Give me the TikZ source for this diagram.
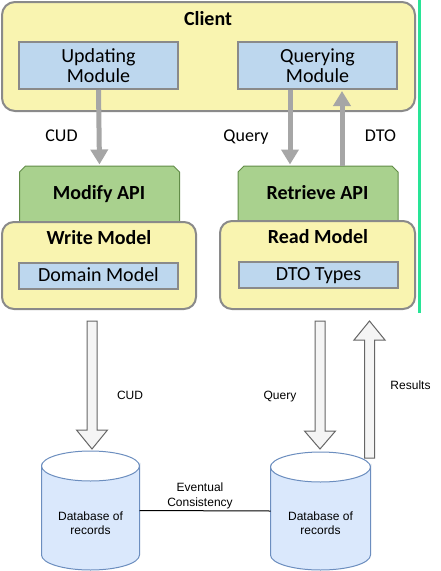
\documentclass[tikz,border=0pt]{standalone}
\usepackage{fontspec}
\setmainfont{Carlito}
\newfontfamily\arialf{Liberation Sans}
\usetikzlibrary{arrows.meta,calc}
\definecolor{ylw}{RGB}{249,244,176}
\definecolor{bgray}{RGB}{138,138,138}
\definecolor{lblue}{RGB}{189,215,238}
\definecolor{apig}{RGB}{169,209,142}
\definecolor{apiborder}{RGB}{98,140,72}
\definecolor{agray}{RGB}{166,166,166}
\definecolor{dbfill}{RGB}{218,232,252}
\definecolor{dbline}{RGB}{108,142,191}
\definecolor{hfill}{RGB}{245,245,245}
\definecolor{hline}{RGB}{102,102,102}
\definecolor{edgegreen}{RGB}{40,228,150}
\tikzset{
  ybox/.style={draw=bgray, line width=2pt, fill=ylw, rounded corners=13pt, inner sep=0pt},
  bbox/.style={draw=bgray, line width=2pt, fill=lblue, inner sep=0pt, align=center, font=\fontsize{20}{19.5}\selectfont},
  helper/.style={draw=none, inner sep=0pt, outer sep=0pt},
  apishape/.style={draw=apiborder, line width=1pt, fill=apig},
  title/.style={anchor=base, inner sep=0pt, font=\bfseries\fontsize{20}{24}\selectfont},
  toplabel/.style={anchor=base, inner sep=0pt, font=\fontsize{18}{22}\selectfont},
  garrow/.style={draw=agray, line width=5pt, -{Triangle[length=15pt,width=17pt]}},
  harrow/.style={draw=hline, line width=1pt, fill=hfill, line join=miter},
  dbshape/.style={draw=dbline, line width=1pt, fill=dbfill},
  smalllabel/.style={inner sep=0pt, align=center, font=\arialf\fontsize{12}{14.5}\selectfont},
  greenedge/.style={draw=edgegreen, line width=3pt}
}
\begin{document}
\begin{tikzpicture}[x=1pt,y=-1pt]
\useasboundingbox (0,0) rectangle (441,571);
\fill[white] (0,0) rectangle (441,571);

% right green edge
\draw[greenedge] (419,0) -- (419,313);

% Client
\node[ybox, minimum width=413pt, minimum height=109pt] (client) at (208.5,56.5) {};
\node[title] (clientt) at (208,25) {Client};
\node[bbox, minimum width=159pt, minimum height=47pt] (upd) at (98.5,65.5) {Updating\\Module};
\node[bbox, minimum width=159pt, minimum height=47pt] (qry) at (317.5,65.5) {Querying\\Module};

% API shapes
\node[helper, minimum width=160pt, minimum height=62pt] (mapi) at (99.5,197) {};
\node[helper, minimum width=160pt, minimum height=62pt] (rapi) at (318,197) {};
\filldraw[apishape] (mapi.south west) -- ([yshift=-6pt]mapi.north west) -- ([xshift=6pt]mapi.north west) -- ([xshift=-6pt]mapi.north east) -- ([yshift=-6pt]mapi.north east) -- (mapi.south east) -- cycle;
\filldraw[apishape] (rapi.south west) -- ([yshift=-6pt]rapi.north west) -- ([xshift=6pt]rapi.north west) -- ([xshift=-6pt]rapi.north east) -- ([yshift=-6pt]rapi.north east) -- (rapi.south east) -- cycle;
\node[title] (mapit) at (99,199.3) {Modify API};
\node[title] (rapit) at (317.5,199.3) {Retrieve API};

% Models
\node[ybox, rounded corners=12pt, minimum width=194pt, minimum height=87pt] (wm) at (99,265.5) {};
\node[ybox, rounded corners=12pt, minimum width=195pt, minimum height=88pt] (rm) at (317.5,265) {};
\node[title] (wmt) at (99,244) {Write Model};
\node[title] (rmt) at (318,243.3) {Read Model};
\node[bbox, minimum width=159pt, minimum height=26pt, text height=14pt, text depth=4pt] (dom) at (98.5,276) {Domain Model};
\node[bbox, minimum width=159pt, minimum height=26pt, text height=14pt, text depth=4pt] (dto) at (318.5,275) {DTO Types};

% thick gray arrows
\draw[garrow, shorten >=1.5pt] (upd.south) -- (mapi.north);
\draw[garrow, shorten >=1.5pt] ([xshift=-27.5pt]qry.south) -- ([xshift=-28pt]rapi.north);
\draw[garrow, shorten >=1pt] ([xshift=24pt]rapi.north) -- ([xshift=24.5pt]qry.south);
\node[toplabel] (lcud) at (61.5,141.7) {CUD};
\node[toplabel] (lq) at (246,141.7) {Query};
\node[toplabel] (ldto) at (380.5,141.7) {DTO};

% databases
\node[helper, minimum width=98pt, minimum height=119pt] (db1) at (90.5,510.5) {};
\node[helper, minimum width=100pt, minimum height=118pt] (db2) at (320.5,511) {};
\filldraw[dbshape] (41.5,466) -- (41.5,555) arc[start angle=180, end angle=360, x radius=49pt, y radius=15pt] -- (139.5,466) arc[start angle=0, end angle=-180, x radius=49pt, y radius=15pt] -- cycle;
\draw[dbshape, fill=none] (41.5,466) arc[start angle=180, end angle=0, x radius=49pt, y radius=15pt];
\filldraw[dbshape] (270.5,467) -- (270.5,555) arc[start angle=180, end angle=360, x radius=50pt, y radius=15pt] -- (370.5,467) arc[start angle=0, end angle=-180, x radius=50pt, y radius=15pt] -- cycle;
\draw[dbshape, fill=none] (270.5,467) arc[start angle=180, end angle=0, x radius=50pt, y radius=15pt];
\node[smalllabel, font=\arialf\fontsize{12}{14}\selectfont] (db1t) at (90.5,523) {Database of\\records};
\node[smalllabel, font=\arialf\fontsize{12}{14}\selectfont] (db2t) at (320.5,523) {Database of\\records};

% eventual consistency
\draw[black, line width=1pt] (db1.east) -- (db2.west);
\node[smalllabel] (ec) at (200,496) {Eventual\\Consistency};

% hollow block arrows
\draw[harrow] (87,321) -- (87,430) -- (76.5,430) -- (92,449) -- (107.5,430) -- (97,430) -- (97,321) -- cycle;
\draw[harrow] (315,321) -- (315,431) -- (304.5,431) -- (320,449) -- (335.5,431) -- (325,431) -- (325,321) -- cycle;
\draw[harrow] (364.5,458) -- (364.5,340) -- (354,340) -- (369.5,321) -- (385,340) -- (374.5,340) -- (374.5,458) -- cycle;
\node[smalllabel, anchor=base] (bcud) at (130,399) {CUD};
\node[smalllabel, anchor=base] (bq) at (280,399) {Query};
\node[smalllabel, anchor=base] (bres) at (410.5,389) {Results};
\end{tikzpicture}
\end{document}
